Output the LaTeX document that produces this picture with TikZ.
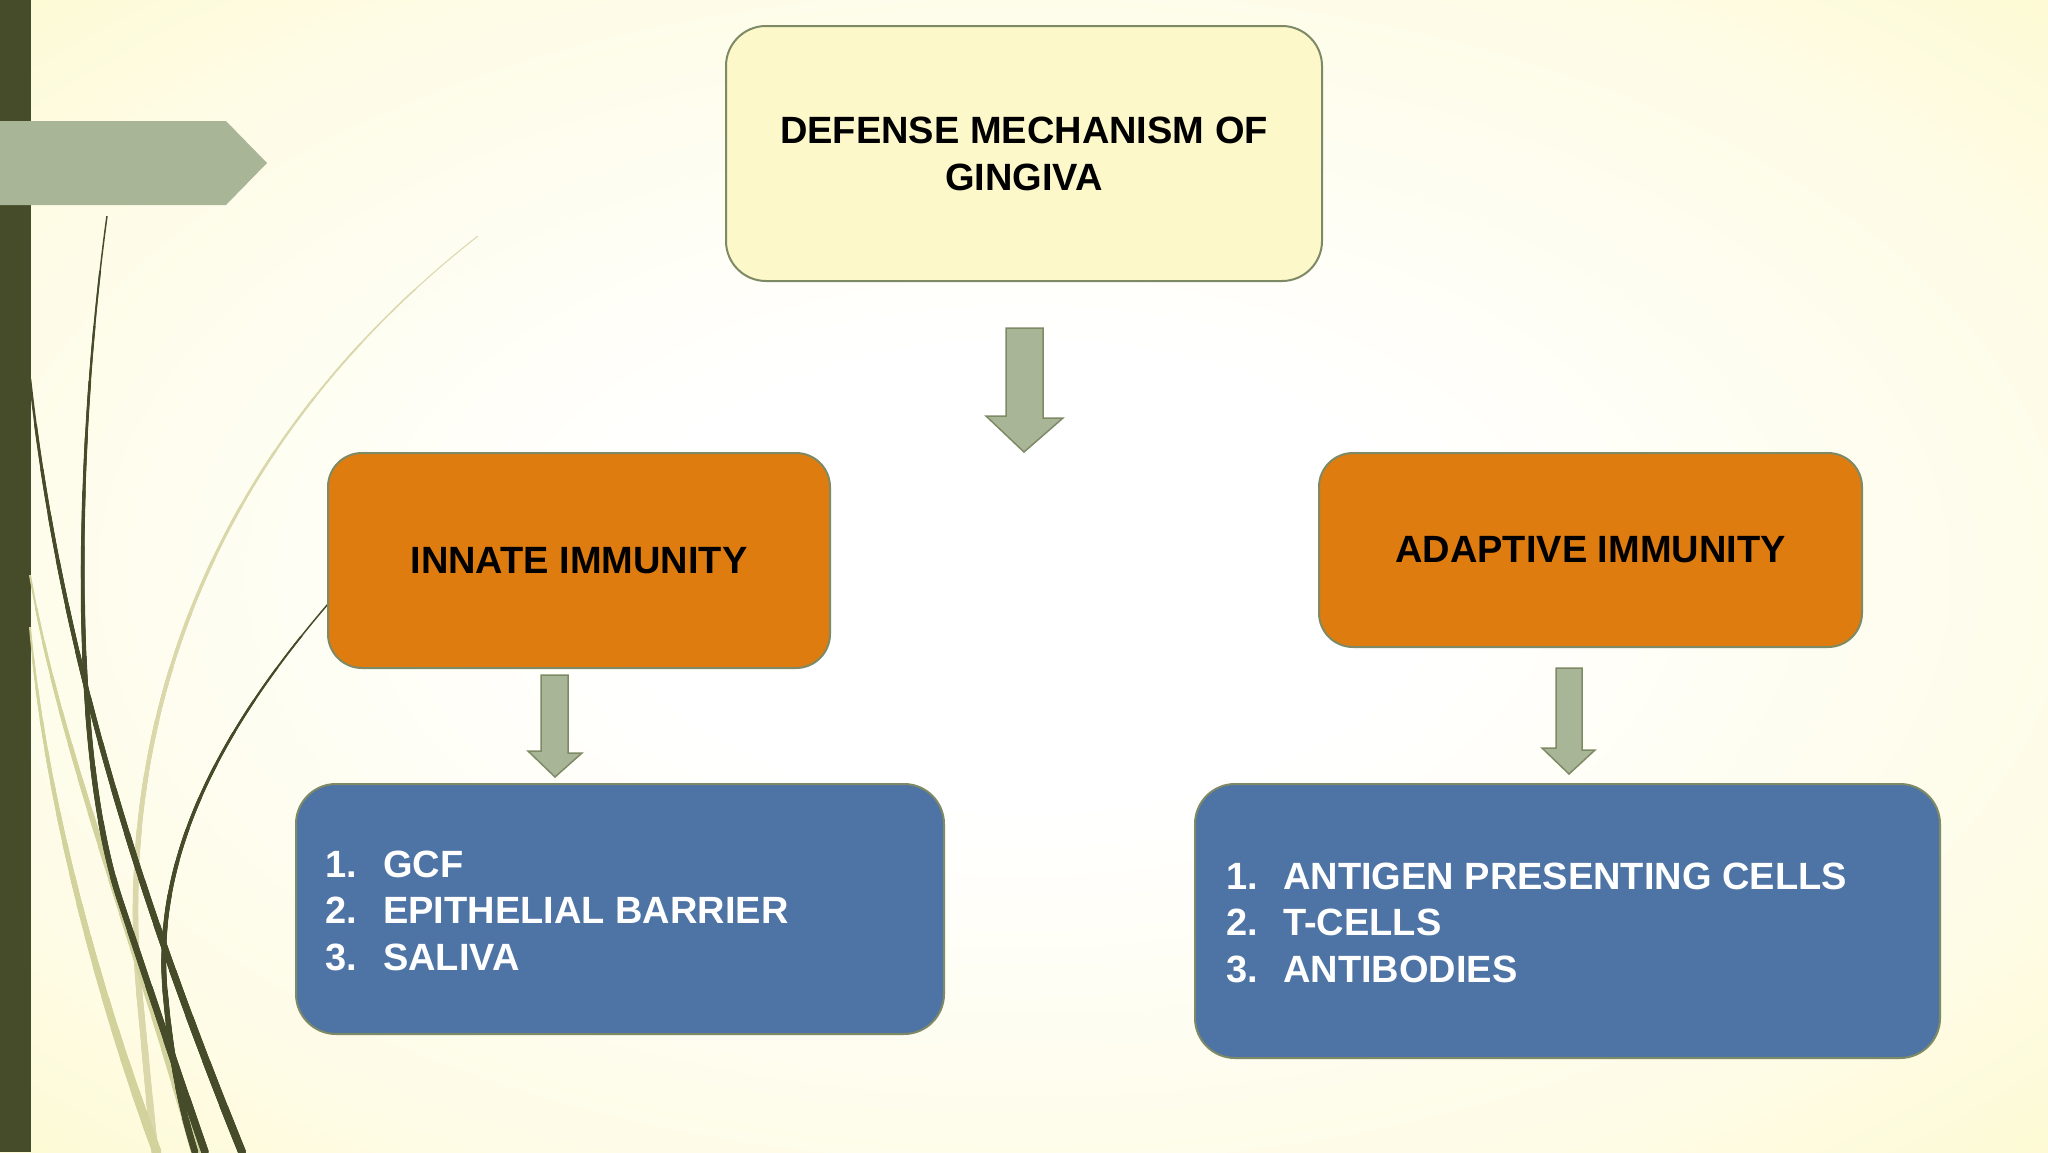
\documentclass[tikz,border=0pt]{standalone}
\usepackage{fontspec}
\setmainfont{Liberation Sans}
\usetikzlibrary{calc}
\definecolor{bgyellow}{HTML}{FBF5B2}
\definecolor{bgmid}{HTML}{FEFCE6}
\definecolor{topfill}{HTML}{FCF8CA}
\definecolor{boxline}{HTML}{7E8A66}
\definecolor{orangefill}{HTML}{DF7C10}
\definecolor{bluefill}{HTML}{4E73A5}
\definecolor{arrowfill}{HTML}{A8B596}
\definecolor{barcol}{HTML}{464B2A}
\definecolor{lightolive}{HTML}{D2D29C}
\definecolor{tancol}{HTML}{DAD7AA}
\pgfdeclareradialshading{bgshade}{\pgfpoint{0bp}{0bp}}{color(0bp)=(white); color(10bp)=(white); color(28bp)=(bgmid); color(50bp)=(bgyellow)}
\tikzset{
  box/.style={draw=boxline, line width=2pt, inner sep=0pt, align=center,
    font=\bfseries\fontsize{38}{47}\selectfont},
  blockarr/.style={fill=arrowfill, draw=boxline, line width=1.5pt, line join=miter},
  listtxt/.style={anchor=base west, inner sep=0pt, text=white,
    font=\bfseries\fontsize{38}{46}\selectfont},
}
% tapered stroke: #1 colour, #2 path, #3 start width, #4 end width, #5 start y
\newcommand\taperstroke[5]{%
  \foreach \i in {0,...,16}{%
    \begin{scope}
      \clip (0,{#5+(1152-#5)*\i/17}) rectangle (700,1160);
      \draw[draw=#1, line cap=round, line width={#3+(#4-#3)*\i/16}] #2;
    \end{scope}}}
\begin{document}
\begin{tikzpicture}[x=1pt,y=-1pt]
\useasboundingbox (0,0) rectangle (2048,1152);
\shade[shading=bgshade] (0,0) rectangle (2048,1152);

% left decoration
\fill[barcol] (0,0) rectangle (31,1152);
\fill[arrowfill] (0,121) -- (226,121) -- (267,163) -- (226,205) -- (0,205) -- cycle;

% grass curves
\taperstroke{tancol}{(478,236) .. controls (230,430) and (110,700) .. (140,1000) .. controls (146,1060) and (150,1110) .. (155,1152)}{1}{7}{236}
\taperstroke{lightolive}{(30,575) .. controls (60,750) and (140,950) .. (196,1152)}{2}{10}{575}
\taperstroke{lightolive}{(30,627) .. controls (45,800) and (100,1000) .. (157,1152)}{2}{9}{627}
\taperstroke{barcol}{(107,216) .. controls (75,450) and (70,750) .. (120,900) .. controls (150,990) and (180,1080) .. (205,1152)}{1.5}{7.5}{216}
\taperstroke{barcol}{(30,379) .. controls (60,650) and (140,900) .. (242,1152)}{2.5}{8}{379}
\taperstroke{barcol}{(328,604) .. controls (220,730) and (150,860) .. (166,1000) .. controls (172,1070) and (185,1120) .. (195,1152)}{1.5}{6.5}{604}

% boxes
\node[box, fill=topfill, rounded corners=40pt, minimum width=596pt, minimum height=255pt]
  (top) at (1024,153.5) {DEFENSE MECHANISM OF\\GINGIVA};
\node[box, fill=orangefill, rounded corners=34pt, minimum width=502pt, minimum height=215pt]
  (innate) at (579,560.5) {INNATE IMMUNITY};
\node[box, fill=orangefill, rounded corners=34pt, minimum width=543pt, minimum height=194pt]
  (adaptive) at (1590.5,550) {ADAPTIVE IMMUNITY};
\node[box, fill=bluefill, rounded corners=40pt, minimum width=648pt, minimum height=250pt]
  (innlist) at (620,909) {};
\node[box, fill=bluefill, rounded corners=40pt, minimum width=745pt, minimum height=274pt]
  (adplist) at (1567.5,921) {};

% list texts
\node[listtxt] (i1n) at (325,877) {1.};
\node[listtxt] (i1t) at (383,877) {GCF};
\node[listtxt] (i2n) at (325,923) {2.};
\node[listtxt] (i2t) at (383,923) {EPITHELIAL BARRIER};
\node[listtxt] (i3n) at (325,970) {3.};
\node[listtxt] (i3t) at (383,970) {SALIVA};

\node[listtxt] (a1n) at (1226,889) {1.};
\node[listtxt] (a1t) at (1283,889) {ANTIGEN PRESENTING CELLS};
\node[listtxt] (a2n) at (1226,935) {2.};
\node[listtxt] (a2t) at (1283,935) {T-CELLS};
\node[listtxt] (a3n) at (1226,982) {3.};
\node[listtxt] (a3t) at (1283,982) {ANTIBODIES};

% block arrows
\draw[blockarr] ($(top.south)+(-18,46)$) -- ++(37,0) -- ++(0,90) -- ++(20,0)
  -- ($(innate.north -| top.south)$) -- ++(-38,-36) -- ++(20,0) -- cycle;
\draw[blockarr] ($(innate.south)+(-38,6)$) -- ++(27,0) -- ++(0,78) -- ++(14,0)
  -- ($(innlist.north -| 555,0)+(0,-6)$) -- ++(-27,-26) -- ++(13,0) -- cycle;
\draw[blockarr] ($(adaptive.south)+(-34.5,20)$) -- ++(26,0) -- ++(0,82) -- ++(13,0)
  -- ($(adplist.north -| 1569,0)+(0,-9)$) -- ++(-27,-26) -- ++(14,0) -- cycle;
\end{tikzpicture}
\end{document}
